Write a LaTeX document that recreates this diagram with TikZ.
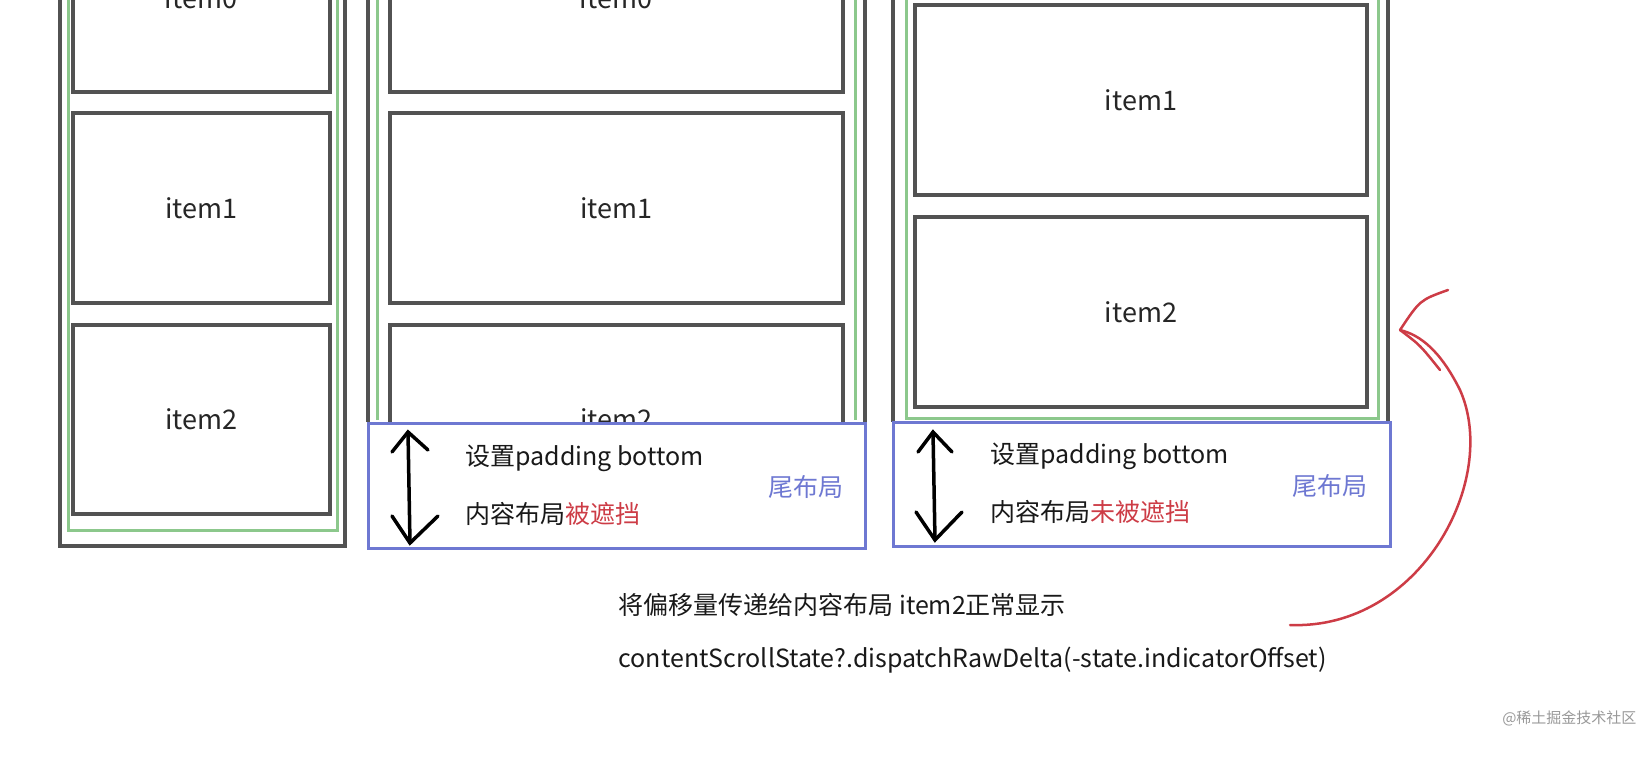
\documentclass[tikz,border=0pt]{standalone}
\usepackage{fontspec}
\setmainfont{Noto Sans CJK SC}
\definecolor{gline}{RGB}{140,200,140}
\definecolor{bline}{RGB}{110,120,210}
\definecolor{rline}{RGB}{205,60,70}
\begin{document}
\begin{tikzpicture}[x=1pt,y=-1pt,
 dk/.style={draw=black!68,line width=3.5pt},
 gr/.style={draw=gline,line width=3pt},
 bl/.style={draw=bline,line width=3pt},
 itm/.style={font=\fontsize{27}{30}\selectfont,text=black!85},
 tx/.style={font=\fontsize{25}{28}\selectfont,text=black!90,anchor=west},
 bt/.style={font=\fontsize{25}{28}\selectfont,text=bline},
 arr/.style={line width=3.5pt,line cap=round}]
\useasboundingbox (0,0) rectangle (1644,770);
\fill[white] (0,0) rectangle (1644,770);
\clip (0,0) rectangle (1644,770);
% column 1
\draw[dk] (60,-10) -- (60,546) -- (345,546) -- (345,-10);
\draw[gr] (68,-10) -- (68,530) -- (337,530) -- (337,-10);
\draw[dk] (73,-100) rectangle (330,92);
\node[itm] (a0) at (201,-2) {item0};
\draw[dk] (73,113) rectangle (330,303) node[midway,itm] (a1){item1};
\draw[dk] (73,325) rectangle (330,514) node[midway,itm] (a2){item2};
% column 2
\draw[dk] (368,-10) -- (368,422); \draw[dk] (865,-10) -- (865,422);
\draw[gr] (377,-10) -- (377,420); \draw[gr] (855,-10) -- (855,420);
\draw[dk] (390,-100) rectangle (843,92);
\node[itm] (b0) at (616,-2) {item0};
\draw[dk] (390,113) rectangle (843,303) node[midway,itm] (b1){item1};
\begin{scope}
\clip (380,300) rectangle (860,421);
\draw[dk] (390,325) rectangle (843,514) node[midway,itm]{item2};
\end{scope}
\draw[bl,fill=white] (368,423) rectangle (865,548);
\node[tx] at (462,458) {设置padding bottom};
\node[tx] at (462,514) {内容布局{\color{rline}被遮挡}};
\node[bt] at (806,487) {尾布局};
\draw[arr] (408,432) -- (410,543);
\draw[arr] (392,452) -- (408,432) -- (428,450);
\draw[arr] (392,516) -- (410,543) -- (438,516);
% column 3
\draw[dk] (893,-10) -- (893,422); \draw[dk] (1388,-10) -- (1388,422);
\draw[gr] (906,-10) -- (906,418) -- (1378,418) -- (1378,-10);
\draw[dk] (915,5) rectangle (1367,195) node[midway,itm] (c1){item1};
\draw[dk] (915,217) rectangle (1367,407) node[midway,itm] (c2){item2};
\draw[bl] (893,422) rectangle (1390,546);
\node[tx] at (987,456) {设置padding bottom};
\node[tx] at (987,512) {内容布局{\color{rline}未被遮挡}};
\node[bt] at (1330,486) {尾布局};
\draw[arr] (933,432) -- (935,540);
\draw[arr] (918,452) -- (933,432) -- (952,452);
\draw[arr] (916,512) -- (935,540) -- (962,512);
% red arrow
\draw[line width=2.5pt,rline,line cap=round] (1290,625) .. controls (1420,630) and (1500,480) .. (1460,390) .. controls (1440,350) and (1420,335) .. (1400,330);
\draw[line width=2.5pt,rline,line cap=round,line join=round] (1448,290) .. controls (1420,300) .. (1400,330) .. controls (1420,345) .. (1440,370);
\node[tx] at (615,605) {将偏移量传递给内容布局 item2正常显示};
\node[tx] at (615,660) {contentScrollState?.dispatchRawDelta(-state.indicatorOffset)};
\node[font=\fontsize{15}{18}\selectfont,text=black!40,anchor=east] at (1640,718) {@稀土掘金技术社区};
\end{tikzpicture}
\end{document}
